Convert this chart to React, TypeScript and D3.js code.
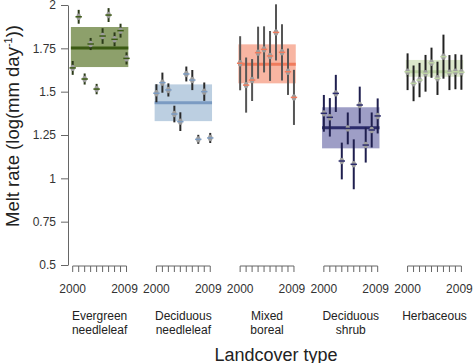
import React, { useEffect, useRef } from 'react';
import * as d3 from 'd3';

// melt rate per year 2000..2009, one array per landcover type
const categories = [
  ['Evergreen', 'needleleaf'],
  ['Deciduous', 'needleleaf'],
  ['Mixed', 'boreal'],
  ['Deciduous', 'shrub'],
  ['Herbaceous'],
];

const years = [2000, 2001, 2002, 2003, 2004, 2005, 2006, 2007, 2008, 2009];

const meltValues = [
  [1.637, 1.932, 1.573, 1.775, 1.515, 1.821, 1.942, 1.802, 1.852, 1.692],
  [1.491, 1.552, 1.51, 1.371, 1.327, 1.602, 1.567, 1.225, 1.5, 1.233],
  [1.664, 1.538, 1.567, 1.725, 1.744, 1.706, 1.842, 1.727, 1.615, 1.467],
  [1.375, 1.352, 1.49, 1.1, 1.288, 1.081, 1.423, 1.192, 1.279, 1.36],
  [1.615, 1.548, 1.567, 1.606, 1.667, 1.577, 1.702, 1.61, 1.615, 1.612],
];

const meltErrors = [
  [0.04, 0.04, 0.032, 0.035, 0.03, 0.045, 0.04, 0.04, 0.04, 0.035],
  [0.052, 0.058, 0.038, 0.048, 0.054, 0.043, 0.058, 0.026, 0.053, 0.029],
  [0.156, 0.159, 0.121, 0.15, 0.133, 0.144, 0.162, 0.162, 0.134, 0.159],
  [0.106, 0.111, 0.107, 0.106, 0.092, 0.144, 0.106, 0.101, 0.101, 0.101],
  [0.106, 0.103, 0.099, 0.106, 0.087, 0.096, 0.127, 0.101, 0.101, 0.101],
];

const groupMeans = [1.752, 1.436, 1.658, 1.292, 1.615];
const bandLow = [1.642, 1.33, 1.548, 1.173, 1.586];
const bandHigh = [1.873, 1.542, 1.773, 1.41, 1.683];

const yTicks = [0.5, 0.75, 1, 1.25, 1.5, 1.75, 2];

const bandColors = ['#8da06b', '#bccfe1', '#f8b5a2', '#9e9ec6', '#dce8cc'];
const meanColors = ['#3b5a13', '#7b9bc2', '#f07b5c', '#2b2b6b', '#bdd3a4'];
const barColors = ['#2b3a18', '#2a2a2a', '#555555', '#1f1f4f', '#222222'];

const FONT = '"Liberation Sans", Arial, sans-serif';

const App: React.FC = () => {
  const svgRef = useRef<SVGSVGElement>(null);

  useEffect(() => {
    if (!svgRef.current) return;
    const svg = d3.select(svgRef.current);
    svg.selectAll('*').remove();

    const step = 14; // slots per group incl. gap
    const x = d3.scaleLinear().domain([0, 4 * step + 9]).range([72.7, 461.4]);
    const y = d3.scaleLinear().domain([0.5, 2]).range([265, 5]);
    const pos = (g: number, j: number) => x(g * step + j);

    // bands + mean lines
    categories.forEach((_, g) => {
      svg.append('rect')
        .attr('x', pos(g, -0.3))
        .attr('width', pos(g, 9.3) - pos(g, -0.3))
        .attr('y', y(bandHigh[g]))
        .attr('height', y(bandLow[g]) - y(bandHigh[g]))
        .attr('fill', bandColors[g]);
      svg.append('line')
        .attr('x1', pos(g, -0.3)).attr('x2', pos(g, 9.3))
        .attr('y1', y(groupMeans[g])).attr('y2', y(groupMeans[g]))
        .attr('stroke', meanColors[g])
        .attr('stroke-width', 3);
    });

    // error bars and points
    meltValues.forEach((vals, g) => {
      const grp = svg.append('g');
      vals.forEach((v, j) => {
        const cx = pos(g, j);
        const e = meltErrors[g][j];
        grp.append('line')
          .attr('x1', cx).attr('x2', cx)
          .attr('y1', y(v + e)).attr('y2', y(v - e))
          .attr('stroke', barColors[g])
          .attr('stroke-width', 2);
        grp.append('ellipse')
          .attr('cx', cx).attr('cy', y(v))
          .attr('rx', 2.2).attr('ry', 3.2)
          .attr('fill', '#9c9c9c');
        grp.append('line')
          .attr('x1', cx - 3.2).attr('x2', cx + 3.2)
          .attr('y1', y(v)).attr('y2', y(v))
          .attr('stroke', meanColors[g])
          .attr('stroke-width', 1.5);
      });
    });

    // y axis
    const yAxis = svg.append('g')
      .attr('transform', 'translate(68,0)')
      .call(d3.axisLeft(y).tickValues(yTicks).tickSize(7).tickPadding(5)
        .tickSizeOuter(0).tickFormat(d => String(d)));
    yAxis.select('.domain').attr('stroke', '#666');
    yAxis.selectAll('.tick line').attr('stroke', '#666');
    yAxis.selectAll('text').attr('font-family', FONT).attr('font-size', 12).attr('fill', '#333');

    // x axis: one small axis per group
    categories.forEach((lines, g) => {
      const ax = svg.append('g').attr('transform', 'translate(0,266)');
      ax.append('line')
        .attr('x1', pos(g, 0)).attr('x2', pos(g, 9))
        .attr('y1', 0).attr('y2', 0)
        .attr('stroke', '#666');
      years.forEach((yr, j) => {
        ax.append('line')
          .attr('x1', pos(g, j)).attr('x2', pos(g, j))
          .attr('y1', 0).attr('y2', 6)
          .attr('stroke', '#666');
        if (j === 0 || j === years.length - 1) {
          ax.append('text')
            .attr('x', pos(g, j) - (j === 0 ? 0 : 2))
            .attr('y', 27)
            .attr('text-anchor', 'middle')
            .attr('font-family', FONT)
            .attr('font-size', 12)
            .attr('fill', '#333')
            .text(yr);
        }
      });
      lines.forEach((t, k) => {
        svg.append('text')
          .attr('x', pos(g, 4.5))
          .attr('y', 320 + k * 14)
          .attr('text-anchor', 'middle')
          .attr('font-family', FONT)
          .attr('font-size', 12)
          .attr('fill', '#222')
          .text(t);
      });
    });

    // titles
    svg.append('text')
      .attr('x', 276).attr('y', 361)
      .attr('text-anchor', 'middle')
      .attr('font-family', FONT)
      .attr('font-size', 18)
      .attr('fill', '#222')
      .text('Landcover type');

    const yt = svg.append('text')
      .attr('transform', 'translate(19,126) rotate(-90)')
      .attr('text-anchor', 'middle')
      .attr('font-family', FONT)
      .attr('font-size', 18.5)
      .attr('fill', '#222');
    yt.append('tspan').text('Melt rate (log(mm day');
    yt.append('tspan').attr('dy', -7).attr('font-size', 11).text('-1');
    yt.append('tspan').attr('dy', 7).text('))');
  }, []);

  return (
    <svg
      ref={svgRef}
      width={474}
      height={363}
      style={{ position: 'absolute', left: 0, top: 0, background: '#fff' }}
    />
  );
};

export default App;
